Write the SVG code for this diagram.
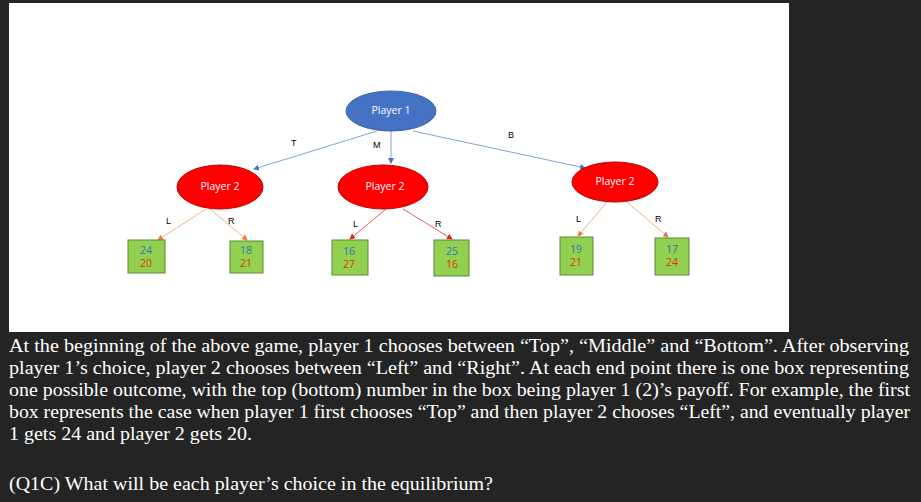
<svg xmlns="http://www.w3.org/2000/svg" width="921" height="502" viewBox="0 0 921 502">
<defs>
<style>
.lbl{font-family:"Liberation Sans",Arial,sans-serif;font-size:9px;fill:#000}
.nt{font-family:"Open Sans","Liberation Sans",sans-serif;font-size:10.5px;fill:#fff;text-anchor:middle}
.box{fill:#92d050;stroke:#5a8a3a;stroke-width:1}
.p1{font-family:"Open Sans","Liberation Sans",sans-serif;font-size:10.5px;fill:#2e75b6;text-anchor:middle}
.p2{font-family:"Open Sans","Liberation Sans",sans-serif;font-size:10.5px;fill:#e03010;text-anchor:middle}
.body{font-family:"Liberation Serif","Times New Roman",serif;font-size:18px;fill:#fff}
</style>
<marker id="ab" markerWidth="6" markerHeight="6" refX="5" refY="3" orient="auto"><path d="M0,0L6,3L0,6z" fill="#4472c4"/></marker>
<marker id="ao" markerWidth="6" markerHeight="6" refX="5" refY="3" orient="auto"><path d="M0,0L6,3L0,6z" fill="#ed7d31"/></marker>
<marker id="ar" markerWidth="6" markerHeight="6" refX="5" refY="3" orient="auto"><path d="M0,0L6,3L0,6z" fill="#e02020"/></marker>
</defs>
<rect width="921" height="502" fill="#242424"/>
<rect x="9" y="3" width="780" height="329" fill="#fff"/>
<g id="connectors">
<line x1="377" y1="131" x2="254" y2="169" stroke="#7fa3d6" stroke-width="1" marker-end="url(#ab)"/>
<line x1="391" y1="131" x2="391" y2="163" stroke="#7fa3d6" stroke-width="1" marker-end="url(#ab)"/>
<line x1="413" y1="131" x2="585" y2="168" stroke="#7fa3d6" stroke-width="1" marker-end="url(#ab)"/>
<line x1="206" y1="209" x2="158" y2="240" stroke="#f4b183" stroke-width="1" marker-end="url(#ao)"/>
<line x1="210" y1="209" x2="247" y2="240" stroke="#f4b183" stroke-width="1" marker-end="url(#ao)"/>
<line x1="386" y1="209" x2="350" y2="239" stroke="#e06060" stroke-width="1" marker-end="url(#ar)"/>
<line x1="403" y1="209" x2="452" y2="239" stroke="#e06060" stroke-width="1" marker-end="url(#ar)"/>
<line x1="607" y1="202" x2="578" y2="236" stroke="#f4b183" stroke-width="1" marker-end="url(#ao)"/>
<line x1="627" y1="202" x2="668" y2="237" stroke="#f4b183" stroke-width="1" marker-end="url(#ao)"/>
<text class="lbl" x="291" y="146">T</text>
<text class="lbl" x="373" y="148">M</text>
<text class="lbl" x="508" y="138">B</text>
<text class="lbl" x="166" y="224">L</text>
<text class="lbl" x="228" y="224">R</text>
<text class="lbl" x="353" y="227">L</text>
<text class="lbl" x="435" y="227">R</text>
<text class="lbl" x="576" y="222">L</text>
<text class="lbl" x="655" y="222">R</text>
</g>
<g id="player1"><ellipse cx="391" cy="111" rx="45" ry="20" fill="#4472c4" stroke="#3b64ad"/><text class="nt" x="391" y="114">Player 1</text></g>
<g id="p2-top"><ellipse cx="220" cy="187" rx="43" ry="22" fill="#ff0000" stroke="#c00000"/><text class="nt" x="220" y="190">Player 2</text></g>
<g id="p2-mid"><ellipse cx="383" cy="187" rx="45" ry="22" fill="#ff0000" stroke="#c00000"/><text class="nt" x="385" y="190">Player  2</text></g>
<g id="p2-bot"><ellipse cx="615" cy="182" rx="43" ry="20" fill="#ff0000" stroke="#c00000"/><text class="nt" x="615" y="185">Player 2</text></g>
<g id="tl"><rect class="box" x="128" y="240" width="37" height="33"/><text class="p1" x="146" y="254">24</text><text class="p2" x="146" y="267">20</text></g>
<g id="tr"><rect class="box" x="230" y="241" width="33" height="32"/><text class="p1" x="246" y="254">18</text><text class="p2" x="246" y="267">21</text></g>
<g id="ml"><rect class="box" x="332" y="240" width="36" height="35"/><text class="p1" x="349" y="255">16</text><text class="p2" x="349" y="268">27</text></g>
<g id="mr"><rect class="box" x="434" y="240" width="35" height="36"/><text class="p1" x="452" y="255">25</text><text class="p2" x="452" y="268">16</text></g>
<g id="bl"><rect class="box" x="560" y="237" width="33" height="38"/><text class="p1" x="576" y="253">19</text><text class="p2" x="576" y="266">21</text></g>
<g id="br"><rect class="box" x="655" y="238" width="34" height="37"/><text class="p1" x="672" y="253">17</text><text class="p2" x="672" y="266">24</text></g>
<text class="body" x="9" y="352" textLength="900" lengthAdjust="spacingAndGlyphs">At the beginning of the above game, player 1 chooses between “Top”, “Middle” and “Bottom”. After observing</text>
<text class="body" x="9" y="374" textLength="900" lengthAdjust="spacingAndGlyphs">player 1’s choice, player 2 chooses between “Left” and “Right”. At each end point there is one box representing</text>
<text class="body" x="9" y="396" textLength="901" lengthAdjust="spacingAndGlyphs">one possible outcome, with the top (bottom) number in the box being player 1 (2)’s payoff. For example, the first</text>
<text class="body" x="9" y="418" textLength="901" lengthAdjust="spacingAndGlyphs">box represents the case when player 1 first chooses “Top” and then player 2 chooses “Left”, and eventually player</text>
<text class="body" x="9" y="440" textLength="243" lengthAdjust="spacingAndGlyphs">1 gets 24 and player 2 gets 20.</text>
<text class="body" x="9" y="490" textLength="484" lengthAdjust="spacingAndGlyphs">(Q1C) What will be each player’s choice in the equilibrium?</text>
</svg>
